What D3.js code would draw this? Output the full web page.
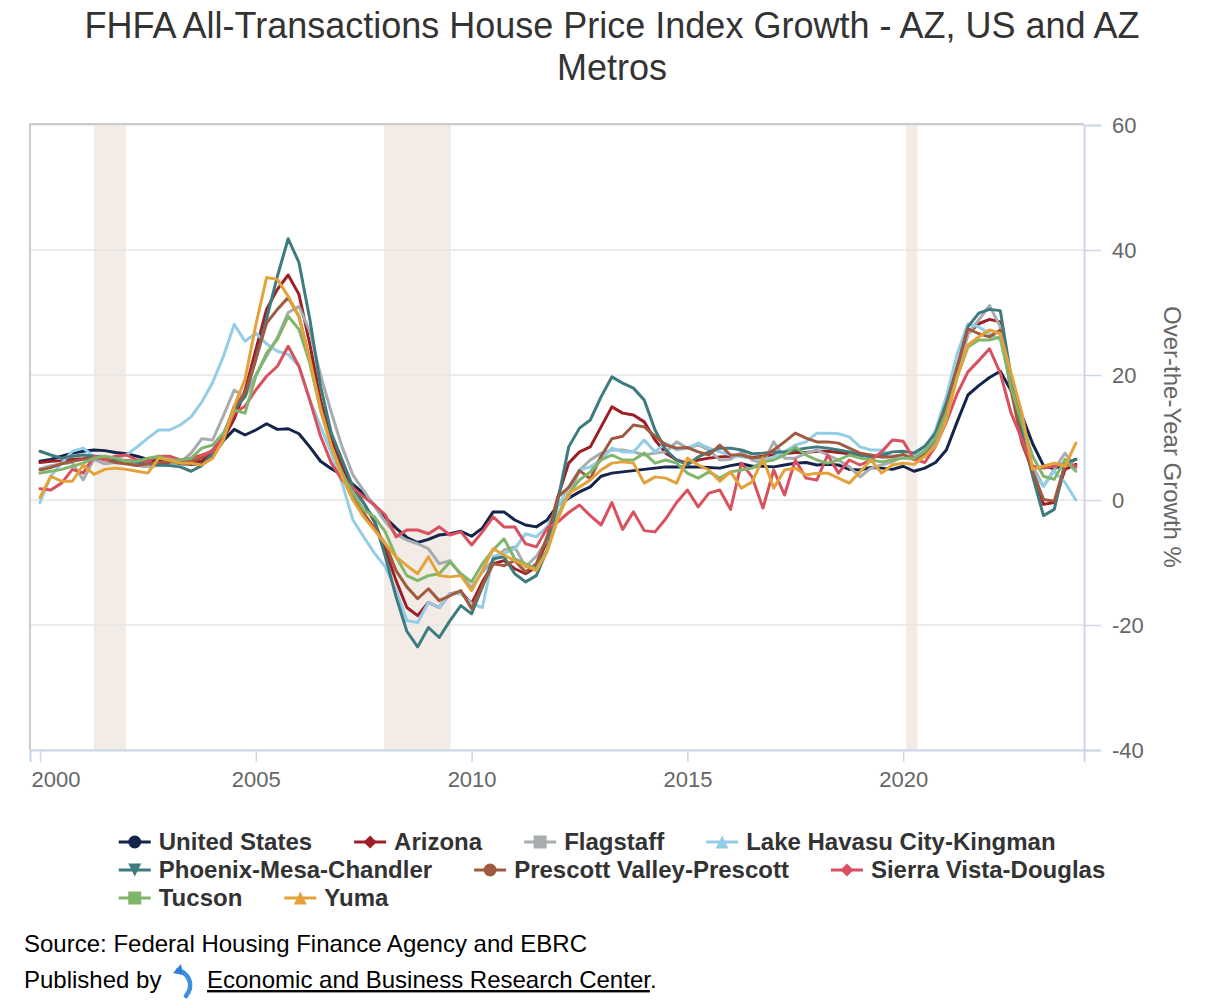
<!DOCTYPE html>
<html>
<head>
<meta charset="utf-8">
<script src="https://cdn.jsdelivr.net/npm/d3@7"></script>
<style>
  body { margin: 0; background: #fff; font-family: "Liberation Sans", Arial, Helvetica, sans-serif; }
</style>
</head>
<body>
<div id="chart"></div>
<script>
// quarterly observations, 2000 Q1 .. 2024 Q1
const quarters = d3.range(97).map(i => 2000 + i * 0.25);

const seriesNames = ["United States", "Arizona", "Flagstaff", "Lake Havasu City-Kingman",
  "Phoenix-Mesa-Chandler", "Prescott Valley-Prescott", "Sierra Vista-Douglas", "Tucson", "Yuma"];
const seriesColors = ["#14244a", "#9d1f26", "#a7acaf", "#93cde6", "#3d7b7e", "#a05a40", "#d9505f", "#80b66b", "#e4a23b"];
const seriesSymbols = ["circle", "diamond", "square", "triangle", "triangle-down", "circle", "diamond", "square", "triangle"];

const unitedStates = [6.2, 6.5, 7.0, 7.5, 7.8, 8.0, 7.9, 7.6, 7.4, 7.0, 6.5, 6.2, 6.0, 5.8, 5.7, 5.8, 7.0,
  9.5, 11.3, 10.4, 11.2, 12.2, 11.3, 11.4, 10.6, 8.5, 6.2, 5.0, 4.0, 2.5, 1.0, -0.8,
  -2.8, -4.5, -6.0, -6.8, -6.3, -5.6, -5.4, -5.0, -5.8, -4.5, -1.9, -1.9, -3.2, -4.0, -4.3, -3.2, -0.8,
  0.3, 1.3, 2.1, 3.8, 4.3, 4.5, 4.7, 4.9, 5.1, 5.3, 5.3, 5.3, 5.3, 5.2, 5.1, 5.5,
  5.8, 5.4, 5.4, 5.3, 5.6, 5.9, 6.0, 5.6, 5.7, 5.6, 4.9, 4.8, 5.2, 5.1, 4.9, 5.4,
  4.6, 5.1, 6.0, 8.0, 12.5, 16.8, 18.3, 19.6, 20.6, 17.5, 13.5, 9.0, 5.5, 5.0, 5.8, 6.5];

const arizona = [6.0, 6.2, 6.3, 6.5, 6.6, 6.8, 6.7, 6.4, 6.3, 6.2, 6.0, 5.9, 5.9, 6.0, 5.8, 6.3, 7.5,
  9.8, 13.0, 17.5, 24.0, 30.5, 33.7, 36.0, 32.9, 25.0, 16.0, 9.6, 5.3, 2.0, -0.5, -3.5,
  -8.0, -12.9, -17.2, -18.5, -16.4, -17.2, -15.0, -14.7, -16.6, -13.1, -10.2, -9.7, -11.0, -11.8, -10.7, -6.4, 0.5,
  5.9, 7.7, 8.5, 11.7, 14.9, 13.9, 13.6, 12.5, 9.6, 7.5, 6.4, 5.9, 6.4, 6.7, 6.9, 7.0,
  7.2, 6.8, 7.0, 7.2, 7.4, 7.6, 7.6, 7.8, 7.8, 7.6, 7.4, 7.2, 7.0, 6.9, 7.0, 7.0,
  6.7, 7.5, 9.7, 14.4, 20.8, 26.6, 28.2, 28.9, 28.5, 19.2, 11.2, 4.9, -0.7, -0.4, 4.9, 5.7];

const flagstaff = [5.0, 5.5, 5.8, 6.0, 3.2, 6.5, 5.8, 6.0, 5.8, 5.5, 5.3, 5.5, 5.6, 6.0, 7.5, 9.8, 9.6,
  13.5, 17.6, 16.5, 20.0, 23.0, 26.0, 30.0, 31.0, 27.0, 20.0, 14.0, 8.5, 4.0, 1.5, -1.0,
  -3.5, -5.5, -6.4, -7.0, -7.8, -10.2, -9.7, -12.0, -14.0, -11.5, -9.7, -8.0, -7.5, -10.7, -9.0, -6.4, -1.0,
  0.5, 4.8, 6.4, 7.5, 8.0, 8.0, 7.7, 7.2, 7.5, 7.7, 9.3, 8.3, 8.8, 8.0, 6.4, 6.5,
  7.7, 6.4, 5.9, 9.3, 6.7, 6.7, 7.5, 8.0, 7.2, 6.4, 5.3, 3.7, 5.1, 5.6, 6.1, 7.0,
  6.5, 7.0, 9.1, 13.4, 20.3, 26.6, 28.8, 31.1, 27.7, 17.6, 10.7, 5.4, 2.2, 4.9, 7.5, 5.1];

const lakeHavasu = [-0.4, 3.8, 5.9, 7.8, 8.3, 7.0, 7.0, 6.7, 7.2, 8.5, 9.9, 11.2, 11.2, 12.0, 13.3, 15.7, 18.8,
  23.0, 28.1, 25.4, 26.7, 25.0, 23.8, 23.3, 21.4, 16.0, 11.8, 7.5, 2.7, -3.2, -5.9, -8.5,
  -10.7, -14.5, -19.3, -19.6, -16.4, -17.2, -15.0, -15.0, -16.6, -17.2, -9.0, -8.6, -7.8, -5.4, -5.9, -4.3, -1.0,
  2.1, 4.8, 5.3, 6.4, 8.3, 7.7, 7.7, 9.6, 7.7, 9.1, 8.0, 8.3, 9.1, 8.3, 7.7, 7.2,
  6.9, 6.7, 6.4, 6.9, 7.7, 8.8, 9.3, 10.7, 10.7, 10.6, 10.1, 8.5, 8.0, 8.0, 6.9, 6.9,
  7.0, 8.1, 11.2, 16.6, 23.4, 28.2, 27.7, 26.6, 25.6, 18.7, 10.7, 4.6, 2.2, 4.6, 2.8, 0.0];

const phoenix = [7.8, 7.2, 6.7, 7.0, 7.2, 7.0, 6.8, 6.5, 6.2, 6.0, 5.8, 5.6, 5.5, 5.3, 4.6, 5.5, 7.5,
  10.5, 14.5, 16.5, 22.5, 29.0, 35.8, 41.8, 38.0, 29.0, 18.2, 10.7, 6.4, 2.1, -0.5, -3.2,
  -9.0, -15.5, -21.0, -23.5, -20.4, -22.0, -19.3, -16.9, -18.2, -13.9, -9.4, -9.1, -11.8, -13.1, -12.1, -8.0, 0.0,
  8.5, 11.5, 12.8, 16.5, 19.7, 18.7, 17.9, 16.0, 11.2, 8.0, 6.4, 5.6, 6.9, 7.7, 8.3, 8.3,
  8.0, 7.4, 7.5, 7.7, 7.7, 8.0, 8.3, 8.5, 8.3, 8.0, 7.7, 7.2, 6.9, 7.2, 7.7, 7.8,
  7.5, 8.6, 10.7, 15.5, 21.3, 27.7, 29.9, 30.5, 30.3, 19.7, 10.7, 3.8, -2.5, -1.5, 5.9, 6.5];

const prescott = [4.8, 5.2, 5.8, 6.2, 6.5, 6.8, 6.5, 6.0, 5.8, 5.5, 5.8, 6.0, 6.2, 6.0, 6.2, 6.8, 8.0,
  10.2, 15.0, 17.1, 22.5, 28.3, 30.5, 32.4, 29.4, 22.5, 15.0, 8.6, 4.3, 0.5, -2.1, -4.5,
  -7.0, -11.3, -13.9, -15.8, -14.2, -16.1, -15.3, -14.5, -17.4, -13.7, -10.2, -10.5, -9.7, -11.5, -10.2, -5.9, 0.5,
  2.0, 4.7, 3.4, 7.0, 9.8, 10.2, 12.0, 11.7, 10.2, 8.8, 8.3, 8.4, 7.7, 7.2, 8.8, 7.2,
  7.2, 6.7, 6.9, 8.0, 9.3, 10.7, 9.9, 9.3, 9.3, 9.1, 8.3, 7.5, 7.2, 6.9, 6.9, 7.3,
  6.5, 7.5, 9.9, 14.7, 21.3, 27.4, 26.6, 26.1, 27.2, 17.6, 9.1, 4.6, 0.1, -0.2, 5.7, 5.4];

const sierraVista = [1.8, 1.6, 2.7, 4.9, 4.3, 7.0, 6.4, 7.0, 7.2, 6.4, 6.2, 7.0, 7.0, 6.4, 6.7, 7.2, 7.8,
  10.2, 13.9, 15.0, 17.6, 19.8, 21.4, 24.6, 21.4, 16.0, 10.2, 5.9, 3.2, 1.9, 0.5, -0.8,
  -2.4, -5.9, -4.8, -4.8, -5.4, -4.3, -5.6, -5.1, -7.2, -5.1, -2.7, -4.3, -4.3, -7.0, -7.5, -4.5, -3.5,
  -2.0, -0.8, -2.5, -4.0, -0.4, -4.7, -1.9, -4.9, -5.1, -3.0, -0.4, 1.6, -1.1, 1.1, 1.6, -1.5,
  5.9, 3.7, -1.3, 4.8, 0.8, 6.4, 3.5, 3.2, 7.2, 4.3, 6.4, 5.6, 6.4, 7.7, 9.6, 9.4,
  6.5, 6.0, 8.6, 12.5, 17.0, 20.5, 22.3, 24.2, 20.3, 13.9, 9.7, 5.4, 5.1, 5.4, 5.9, 5.4];

const tucson = [4.3, 4.6, 4.9, 5.4, 5.9, 6.7, 7.0, 6.7, 6.2, 6.2, 6.7, 7.0, 6.4, 6.4, 6.7, 8.3, 8.8,
  10.7, 14.4, 13.9, 19.8, 23.5, 25.7, 29.4, 27.3, 21.9, 14.4, 8.6, 4.3, 1.1, -1.6, -2.7,
  -5.1, -9.1, -12.1, -12.9, -12.1, -11.8, -9.9, -11.8, -13.1, -10.2, -8.0, -6.2, -9.4, -10.2, -11.0, -8.0, -2.5,
  1.1, 3.2, 4.5, 6.4, 7.2, 6.4, 6.4, 7.5, 5.9, 6.4, 5.9, 4.3, 3.5, 4.5, 3.5, 4.5,
  4.8, 5.1, 6.1, 6.4, 7.2, 8.5, 7.2, 6.4, 5.9, 6.4, 7.2, 6.7, 6.4, 6.1, 6.4, 6.7,
  6.7, 7.8, 9.9, 13.9, 19.7, 24.5, 25.6, 25.6, 26.1, 18.1, 12.3, 7.0, 3.8, 3.3, 6.5, 4.6];

const yuma = [0.4, 3.8, 3.0, 3.0, 5.6, 4.1, 4.9, 5.1, 4.9, 4.6, 4.3, 6.7, 6.4, 5.9, 5.9, 5.6, 6.7,
  9.6, 15.0, 19.3, 28.0, 35.6, 35.3, 32.6, 29.4, 22.5, 14.4, 8.6, 3.7, 0.0, -2.7, -4.8,
  -7.0, -9.1, -10.5, -11.8, -9.1, -12.1, -12.3, -12.1, -14.5, -11.3, -7.8, -8.8, -9.7, -10.5, -11.3, -8.3, -3.0,
  1.1, 2.1, 3.2, 4.8, 5.9, 6.1, 5.9, 2.7, 3.7, 3.5, 2.7, 6.7, 5.6, 4.8, 3.0, 4.5,
  1.9, 2.9, 6.7, 1.9, 4.8, 5.1, 4.0, 4.3, 4.3, 3.5, 2.7, 4.5, 6.4, 4.3, 5.6, 5.9,
  5.7, 7.0, 8.6, 12.8, 19.7, 24.8, 26.1, 27.2, 26.6, 20.3, 13.9, 4.9, 5.4, 5.9, 5.4, 9.1];

const seriesValues = [unitedStates, arizona, flagstaff, lakeHavasu, phoenix, prescott, sierraVista, tucson, yuma];

// recession bands (fractional years)
const recessions = [[2001.25, 2001.99], [2007.97, 2009.52], [2020.07, 2020.33]];

const xTicks = [2000, 2005, 2010, 2015, 2020];
const yTicks = [-40, -20, 0, 20, 40, 60];

const titleLines = ["FHFA All-Transactions House Price Index Growth - AZ, US and AZ", "Metros"];
const yAxisTitle = "Over-the-Year Growth %";
const sourceText = "Source: Federal Housing Finance Agency and EBRC";
const linkText = "Economic and Business Research Center";

// layout
const width = 1224, height = 1008;
const plot = { left: 30, right: 1084, top: 125, bottom: 750 };

const svg = d3.select("#chart").append("svg")
  .attr("width", width)
  .attr("height", height)
  .style("font-family", '"Liberation Sans", Arial, Helvetica, sans-serif');

const x = d3.scaleLinear()
  .domain([2000 - 10 / 43.16, 2000 + 1044 / 43.16])
  .range([plot.left, plot.right]);

const y = d3.scaleLinear()
  .domain([-40, 60])
  .range([plot.bottom, plot.top]);

// title
svg.append("g").selectAll("text")
  .data(titleLines)
  .join("text")
  .attr("x", 612)
  .attr("y", (d, i) => 38 + i * 42)
  .attr("text-anchor", "middle")
  .attr("fill", "#333")
  .style("font-size", "36px")
  .text(d => d);

// recession bands
svg.append("g").selectAll("rect")
  .data(recessions)
  .join("rect")
  .attr("x", d => x(d[0]))
  .attr("width", d => x(d[1]) - x(d[0]))
  .attr("y", plot.top)
  .attr("height", plot.bottom - plot.top)
  .attr("fill", "#f3ece6");

// grid lines
svg.append("g").selectAll("line")
  .data(yTicks)
  .join("line")
  .attr("x1", plot.left)
  .attr("x2", plot.right)
  .attr("y1", d => y(d))
  .attr("y2", d => y(d))
  .attr("stroke", "#e6e6e6")
  .attr("stroke-width", 1.5);

// plot border (left + top)
svg.append("path")
  .attr("d", `M${plot.left},${plot.bottom}V${plot.top - 1}H${plot.right}`)
  .attr("fill", "none")
  .attr("stroke", "#cccccc")
  .attr("stroke-width", 2);

// right y axis
const yAxis = svg.append("g")
  .attr("transform", `translate(${plot.right},0)`)
  .call(d3.axisRight(y).tickValues(yTicks).tickFormat(d => String(d)).tickSize(17).tickPadding(11));
yAxis.select(".domain").attr("stroke", "#ccd6eb").attr("stroke-width", 2);
yAxis.selectAll(".tick line").attr("stroke", "#ccd6eb").attr("stroke-width", 1.5);
yAxis.selectAll(".tick text")
  .attr("fill", "#666")
  .style("font-size", "22px")
  .style("font-family", '"Liberation Sans", Arial, sans-serif');

svg.append("text")
  .attr("transform", `translate(1164,437) rotate(90)`)
  .attr("text-anchor", "middle")
  .attr("fill", "#666")
  .style("font-size", "24px")
  .text(yAxisTitle);

// bottom x axis
const xAxis = svg.append("g")
  .attr("transform", `translate(0,${plot.bottom})`)
  .call(d3.axisBottom(x).tickValues(xTicks).tickFormat(d3.format("d")).tickSize(12).tickPadding(9));
xAxis.select(".domain").attr("stroke", "#ccd6eb").attr("stroke-width", 2);
xAxis.selectAll(".tick line").attr("stroke", "#ccd6eb").attr("stroke-width", 1.5);
xAxis.selectAll(".tick text")
  .attr("fill", "#666")
  .style("font-size", "22px")
  .style("font-family", '"Liberation Sans", Arial, sans-serif');
// first label kept inside the plot edge
xAxis.selectAll(".tick text").filter(d => d === 2000)
  .attr("text-anchor", "start")
  .attr("x", plot.left - x(2000) + 1);

// lines
const line = d3.line()
  .x((d, i) => x(quarters[i]))
  .y(d => y(d));

svg.append("g")
  .selectAll("path")
  .data(seriesValues)
  .join("path")
  .attr("fill", "none")
  .attr("stroke", (d, i) => seriesColors[i])
  .attr("stroke-width", 3)
  .attr("stroke-linejoin", "round")
  .attr("stroke-linecap", "round")
  .attr("d", d => line(d));

// legend
function symbolPath(type, r) {
  switch (type) {
    case "circle": return `M${-r},0a${r},${r} 0 1,0 ${2 * r},0a${r},${r} 0 1,0 ${-2 * r},0Z`;
    case "diamond": return `M0,${-r}L${r},0L0,${r}L${-r},0Z`;
    case "square": return `M${-r},${-r}H${r}V${r}H${-r}Z`;
    case "triangle": return `M0,${-r}L${r},${r}H${-r}Z`;
    case "triangle-down": return `M${-r},${-r}H${r}L0,${r}Z`;
  }
}

const legend = svg.append("g");
const items = legend.selectAll("g")
  .data(seriesNames)
  .join("g");

items.append("line")
  .attr("x1", 0).attr("x2", 32)
  .attr("y1", 0).attr("y2", 0)
  .attr("stroke", (d, i) => seriesColors[i])
  .attr("stroke-width", 3);
items.append("path")
  .attr("transform", "translate(16,0)")
  .attr("d", (d, i) => symbolPath(seriesSymbols[i], 6.5))
  .attr("fill", (d, i) => seriesColors[i]);
items.append("text")
  .attr("x", 40)
  .attr("y", 8)
  .attr("fill", "#333")
  .style("font-size", "24px")
  .style("font-weight", "bold")
  .text(d => d);

// flow legend items into rows, centered as a block
const maxRow = 1010, gap = 42, rowH = 28;
let rows = [[]], rowW = 0;
items.each(function (d, i) {
  const w = 40 + this.querySelector("text").getComputedTextLength();
  if (rows[rows.length - 1].length && rowW + gap + w > maxRow) {
    rows.push([]);
    rowW = 0;
  }
  const cur = rows[rows.length - 1];
  const px = cur.length ? rowW + gap : 0;
  cur.push({ node: this, px, w });
  rowW = px + w;
});
const blockW = d3.max(rows, r => r[r.length - 1].px + r[r.length - 1].w);
const startX = 612 - blockW / 2;
rows.forEach((r, ri) => r.forEach(it => {
  d3.select(it.node).attr("transform", `translate(${startX + it.px},${842 + ri * rowH})`);
}));

// footer
svg.append("text")
  .attr("x", 24)
  .attr("y", 952)
  .attr("fill", "#000")
  .style("font-size", "24px")
  .text(sourceText);

const pub = svg.append("text")
  .attr("x", 24)
  .attr("y", 988)
  .attr("fill", "#000")
  .style("font-size", "24px");
pub.append("tspan").text("Published by");
pub.append("tspan").attr("x", 207).style("text-decoration", "underline").text(linkText);
pub.append("tspan").text(".");

// logo swoosh
const logo = svg.append("g").attr("transform", "translate(172,964)");
logo.append("path")
  .attr("d", "M6,6 C18,10 22,22 14,32")
  .attr("fill", "none")
  .attr("stroke", "#3f8fe0")
  .attr("stroke-width", 4.5)
  .attr("stroke-linecap", "round");
logo.append("path")
  .attr("d", "M1,9 L9,0 L11,11 Z")
  .attr("fill", "#2f7fd6");
</script>
</body>
</html>
